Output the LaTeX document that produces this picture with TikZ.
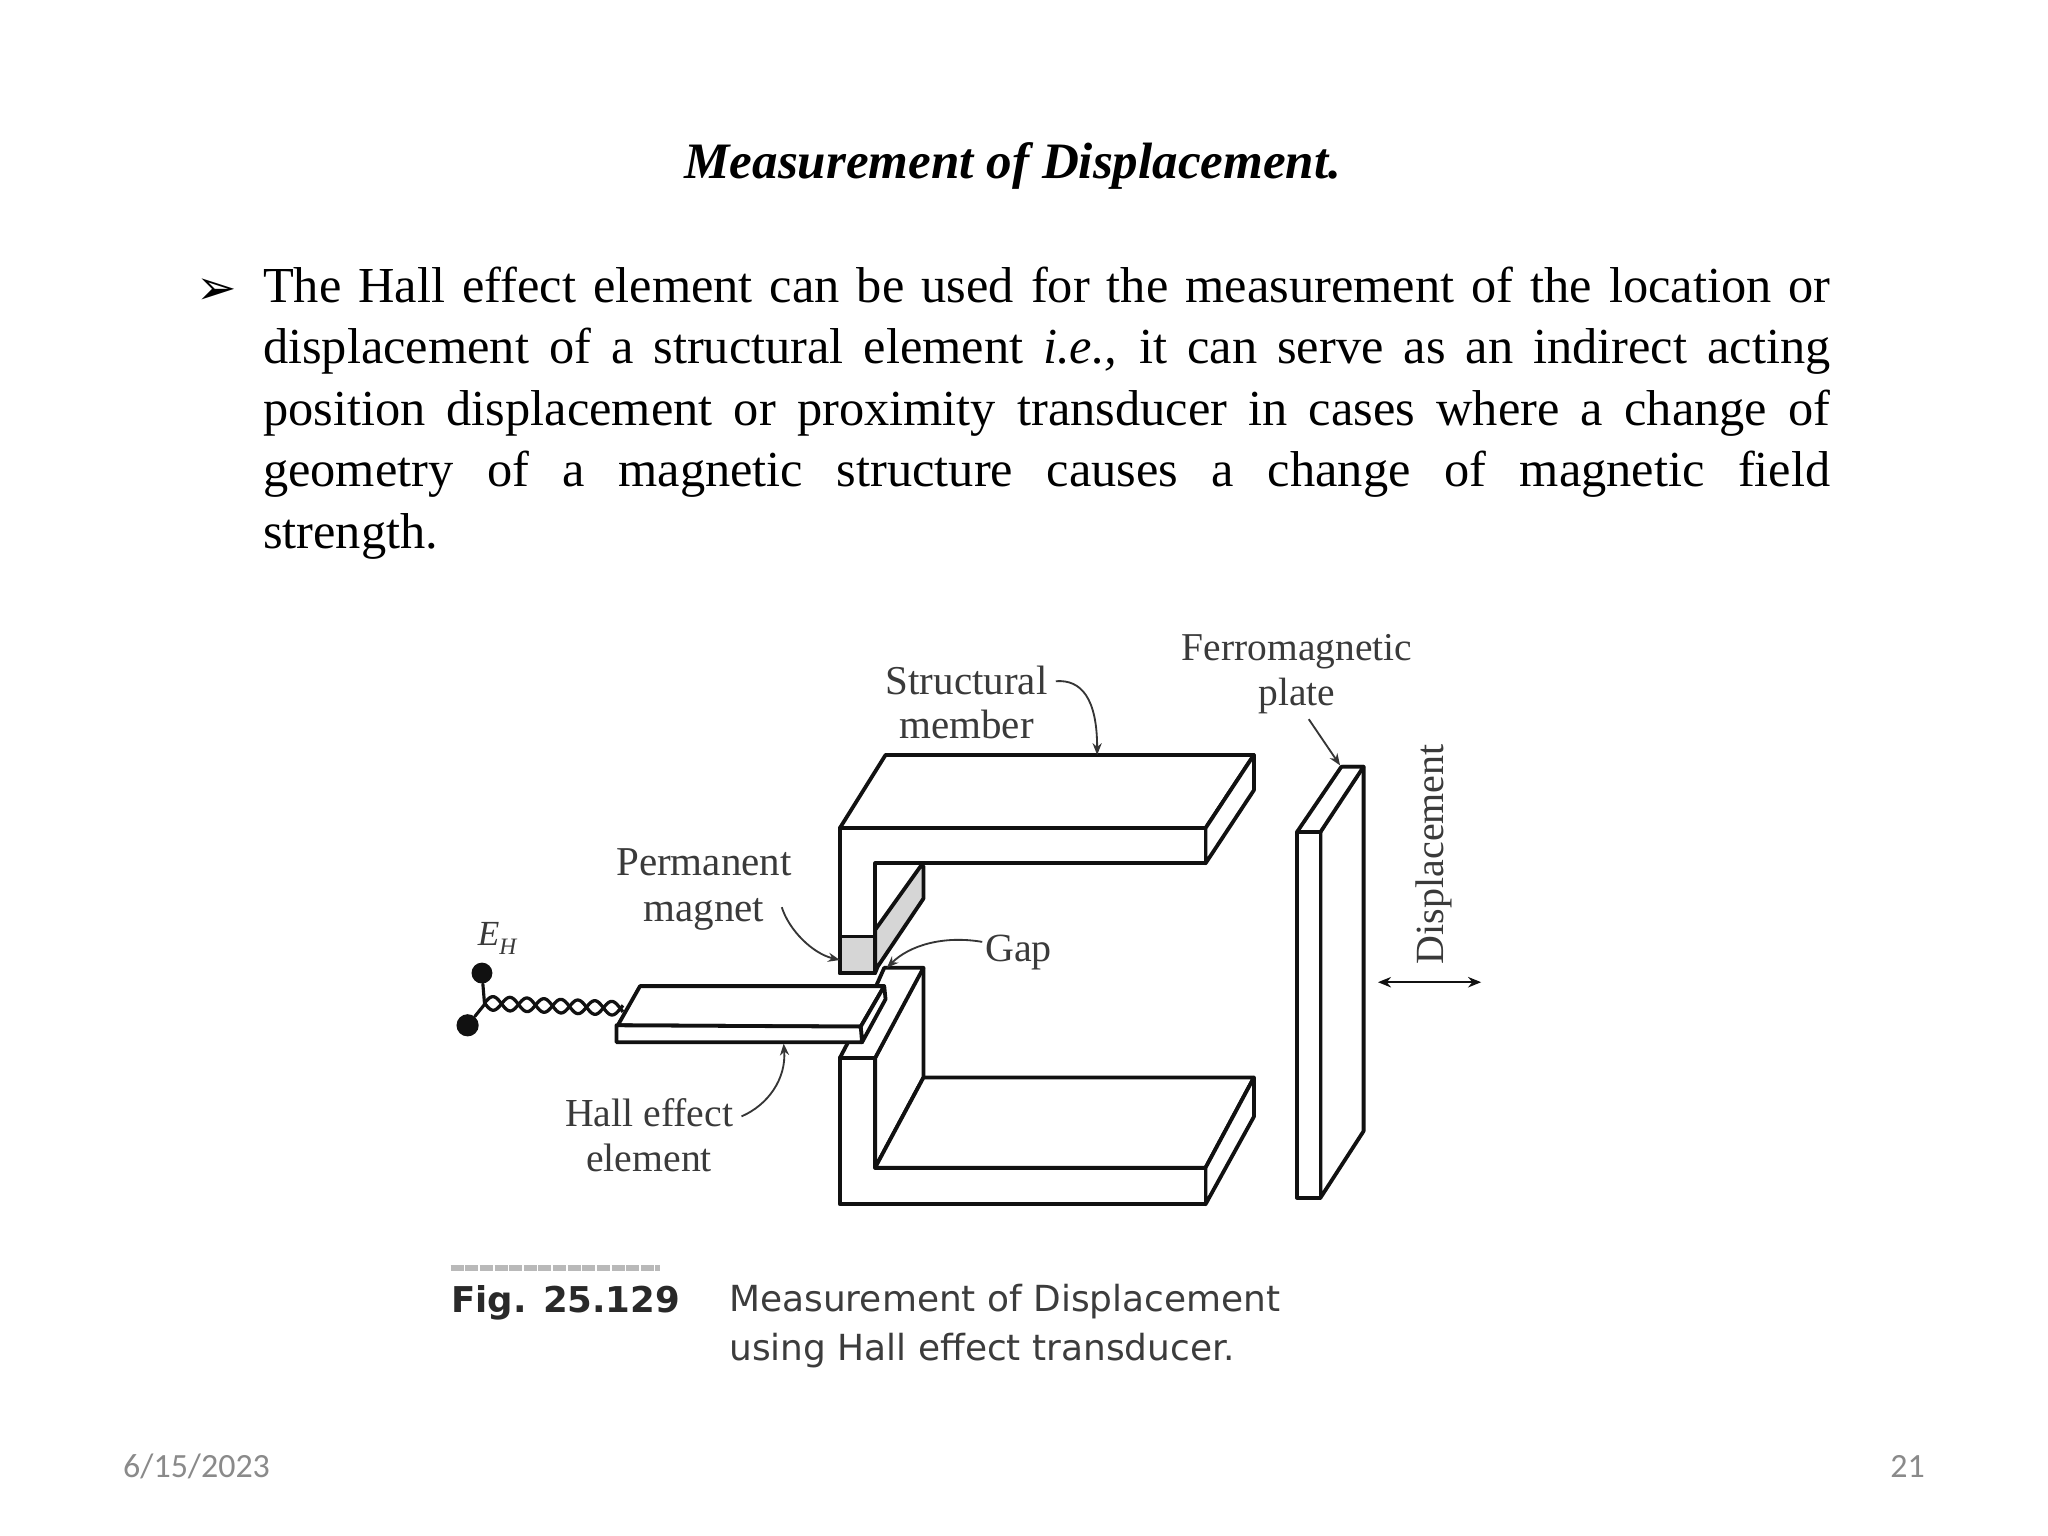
\documentclass[tikz,border=0pt]{standalone}
\usepackage{fontspec}
\setmainfont{Liberation Serif}
\newfontfamily\capfont{DejaVu Sans}
\newfontfamily\footfont{Carlito}
\usetikzlibrary{arrows.meta}
\definecolor{ink}{HTML}{111111}
\definecolor{lblcol}{HTML}{3A3A3A}
\definecolor{capcol}{HTML}{3C3C3C}
\definecolor{footcol}{HTML}{8A8A8A}
\definecolor{magnetgrey}{HTML}{D6D6D6}
\tikzset{
  ln/.style={draw=ink,line width=1.45pt,line join=round,line cap=round},
  lbl/.style={inner sep=0pt,text=lblcol,align=center,font=\fontsize{15.3}{17}\selectfont},
  ptr/.style={draw=ink!85,line width=0.7pt,-{Stealth[length=4.5pt,width=3.5pt]}},
  caplbl/.style={inner sep=0pt,anchor=north west,text=capcol,align=left,font=\capfont\fontsize{13.75}{18.5}\selectfont},
  foot/.style={inner sep=0pt,anchor=base,text=footcol,font=\footfont\fontsize{13}{15}\selectfont},
}
\begin{document}
\begin{tikzpicture}[x=0.5pt,y=-0.5pt]
\useasboundingbox (0,0) rectangle (1568,1176);
\fill[white] (0,0) rectangle (1568,1176);
% text
\node[inner sep=0pt,anchor=base,font=\bfseries\itshape\fontsize{19.55}{23}\selectfont] (title) at (775.5,137) {Measurement of Displacement.};
\node[inner sep=0pt,anchor=base,font=\capfont\fontsize{18.5}{20}\selectfont] (bullet) at (166,233) {➢};
\node[inner sep=0pt,anchor=north west,align=left,font=\fontsize{19.3}{23.5}\selectfont] (body) at (201,204) {%
\makebox[600pt][s]{The Hall effect element can be used for the measurement of the location or}\\
\makebox[600pt][s]{displacement of a structural element \textit{i.e.,} it can serve as an indirect acting}\\
\makebox[600pt][s]{position displacement or proximity transducer in cases where a change of}\\
\makebox[600pt][s]{geometry of a magnetic structure causes a change of magnetic field}\\
strength.};
% upper yoke
\path[ln,fill=white] (643,634) -- (678,578) -- (960,578) -- (923,634) -- cycle;
\path[ln,fill=white] (923,634) -- (960,578) -- (960,605) -- (923,661) -- cycle;
\path[ln,fill=white] (643,745) -- (643,634) -- (923,634) -- (923,661) -- (670,661) -- (670,745) -- cycle;
% magnet
\path[ln,fill=magnetgrey] (643,717) rectangle (670,745);
\path[ln,fill=magnetgrey] (670,712) -- (705,663) -- (707,663) -- (707,688) -- (672,740) -- (670,745) -- cycle;
% lower part
\path[ln,fill=white] (670,810) -- (704,745) -- (707,741) -- (707,825) -- (670,894) -- cycle;
\path[ln,fill=white] (643,810) -- (664,770) -- (677,741) -- (707,741) -- (670,810) -- cycle;
\path[ln,fill=white] (670,894) -- (707,825) -- (960,825) -- (923,894) -- cycle;
\path[ln,fill=white] (923,894) -- (960,825) -- (960,855) -- (923,922) -- cycle;
\path[ln,fill=white] (643,810) -- (670,810) -- (670,894) -- (923,894) -- (923,922) -- (643,922) -- cycle;
% Hall element
\path[ln,fill=white] (473,785) -- (490,755) -- (677,755) -- (659,786) -- cycle;
\path[ln,fill=white] (659,786) -- (677,755) -- (678,765) -- (660,798) -- cycle;
\path[ln,fill=white] (472,785) -- (659,786) -- (660,798) -- (472,798) -- cycle;
% plate
\path[ln,fill=white] (1011,637) -- (1028,587) -- (1044,587) -- (1044,866) -- (1011,917) -- cycle;
\path[ln,fill=white] (993,637) -- (1027,587) -- (1044,587) -- (1011,637) -- cycle;
\path[ln,fill=white] (993,637) rectangle (1011,917);
% terminals and twisted pair
\node[circle,fill=ink,inner sep=0pt,minimum size=8pt] (ta) at (369,745) {};
\node[circle,fill=ink,inner sep=0pt,minimum size=8.5pt] (tb) at (358,785) {};
\coordinate (tj) at (371,769);
\draw[ln,line width=1.2pt] (ta) -- (tj) -- (tb);
\draw[ink,line width=1.25pt,domain=0:106,samples=160,smooth] plot ({371+\x},{768+0.04*\x+5.2*sin(\x*13.85)});
\draw[ink,line width=1.25pt,domain=0:106,samples=160,smooth] plot ({371+\x},{768+0.04*\x-5.2*sin(\x*13.85)});
% labels
\node[lbl,font=\fontsize{15.7}{17}\selectfont] (lS) at (740,538) {Structural\\member};
\node[lbl,font=\fontsize{15.1}{17}\selectfont] (lF) at (993,516) {Ferromagnetic\\plate};
\node[lbl,font=\fontsize{15.7}{17.5}\selectfont] (lP) at (539,681) {Permanent\\magnet};
\node[lbl,anchor=base west] (lG) at (754,736) {Gap};
\node[lbl,font=\fontsize{15.2}{17}\selectfont] (lH) at (497,869) {Hall effect\\element};
\node[lbl,rotate=90] (lD) at (1098,654) {Displacement};
\node[inner sep=0pt,anchor=base,text=lblcol,font=\fontsize{13.5}{15}\selectfont] (lE) at (381,724) {\textit{E}\raisebox{-0.25em}{\fontsize{9}{10}\selectfont\textit{H}}};
% pointers
\coordinate (pS) at (840,578);
\coordinate (pF) at (1026,586);
\coordinate (pP) at (643,735);
\coordinate (pG) at (679,741);
\coordinate (pH) at (600,799);
\draw[ptr] ([xshift=3pt,yshift=-6pt]lS.north east) .. controls (828,520) and (840,535) .. (pS);
\draw[ptr] ([xshift=4.5pt,yshift=-2pt]lF.south) -- (pF);
\draw[ptr] ([xshift=-4pt,yshift=9pt]lP.south east) .. controls (604,712) and (622,730) .. (pP);
\draw[ptr] (lG.west) ++(-2,-8) .. controls (722,716) and (696,724) .. (pG);
\draw[ptr] ([xshift=3pt,yshift=-7pt]lH.north east) .. controls (588,846) and (602,826) .. (pH);
% displacement arrow
\coordinate (dl) at (1055,752);
\coordinate (dr) at (1134,752);
\draw[ink,line width=0.8pt,{Stealth[length=5pt,width=4pt]}-{Stealth[length=5pt,width=4pt]}] (dl) -- (dr);
% caption
\draw[gray!55,line width=2.2pt,dash pattern=on 5pt off 0.6pt] (345,971) -- (505,971);
\node[inner sep=0pt,anchor=base west,font=\capfont\bfseries\fontsize{13.6}{16}\selectfont,text=ink!90] (fg) at (345,1005) {Fig. 25.129};
\node[caplbl] (cp) at (558,983) {Measurement of Displacement\\using Hall effect transducer.};
% footer
\node[foot] (fd) at (150.5,1131) {6/15/2023};
\node[foot] (fn) at (1460.5,1131) {21};
\end{tikzpicture}
\end{document}
